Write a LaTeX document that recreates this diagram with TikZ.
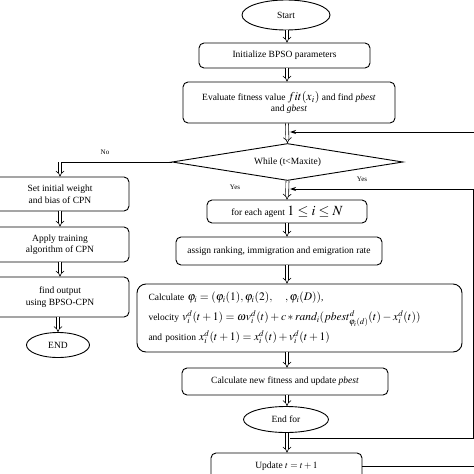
\documentclass[tikz,border=0pt]{standalone}
\usepackage{mathptmx}
\usepackage{fontspec}
\setmainfont{Liberation Serif}
\usetikzlibrary{positioning, shapes.geometric, arrows.meta}
\tikzstyle{normalBox} = [shape=rectangle, draw=black, text=black, line width=0.9pt,
	rounded corners=5pt, align=center, fill=white, font=\fontsize{9.5}{11.5}\selectfont]
\tikzstyle{endBox} = [shape=ellipse, draw=black, text=black, line width=0.9pt,
	fill=white, inner sep=0pt, font=\fontsize{9.5}{11.5}\selectfont]
\tikzstyle{doubleArrow} = [double, double distance=2.4pt, line width=0.6pt, -{Implies}, draw=black]
\tikzstyle{loopArrow} = [line width=0.9pt, -{Stealth[length=6pt,width=4pt]}, draw=black]
\tikzstyle{plainLine} = [line width=0.9pt, draw=black]
\tikzstyle{smallLabel} = [font=\fontsize{7}{8}\selectfont, text=black]
\newcommand{\bigMath}[1]{{\fontsize{11.5}{13}\selectfont$#1$}}

\begin{document}
\begin{tikzpicture}[x=1pt, y=-1pt]
  \useasboundingbox (0,0) rectangle (474,474);
  \coordinate (axis) at (287,0);

  % main column
  \node (start) at (286,15) [endBox, minimum width=88pt, minimum height=30pt] {Start};
  \node (init) at (284.5,55.5) [normalBox, minimum width=171pt, minimum height=25pt] {Initialize BPSO parameters};
  \node (eval) at (289,102.5) [normalBox, minimum width=212pt, minimum height=41pt]
    {Evaluate fitness value {\fontsize{12}{14}\selectfont$fit(x_i)$} and find \textit{pbest}\\ and \textit{gbest}};
  \node (while) at (287.5,162) [shape=diamond, draw=black, line width=0.9pt, aspect=6.2, inner sep=0pt,
    minimum width=231pt, minimum height=37pt, font=\fontsize{9.5}{11.5}\selectfont] {While (t<Maxite)};
  \node (foreach) at (287,211.5) [normalBox, minimum width=160pt, minimum height=23pt]
    {for each agent {\fontsize{14}{16}\selectfont$1\le i\le N$}};
  \node (assign) at (279,251) [normalBox, minimum width=206pt, minimum height=28pt]
    {assign ranking, immigration and emigration rate};
  \node (calc) at (299.5,318) [normalBox, rounded corners=9pt, minimum width=325pt, minimum height=68pt,
    align=left, text width=302pt, font=\fontsize{9.5}{20}\selectfont]
    {Calculate \bigMath{\varphi_i=(\varphi_i(1),\varphi_i(2),\quad,\varphi_i(D))},\\
     velocity \bigMath{v_i^d(t+1)=\omega v_i^d(t)+c*rand_i(pbest^d_{\varphi_i(d)}(t)-x_i^d(t))}\\
     and position \bigMath{x_i^d(t+1)=x_i^d(t)+v_i^d(t+1)}};
  \node (newfit) at (285,381.5) [normalBox, minimum width=206pt, minimum height=27pt]
    {Calculate new fitness and update \textit{pbest}};
  \node (endfor) at (286,419.5) [endBox, minimum width=85pt, minimum height=26pt] {End for};
  \node (update) at (286.5,466) [normalBox, minimum width=151pt, minimum height=26pt]
    {Update $t=t+1$};

  % left column
  \node (set) at (60,194) [normalBox, minimum width=138pt, minimum height=34pt] {Set initial weight\\ and bias of CPN};
  \node (apply) at (60,244.5) [normalBox, minimum width=138pt, minimum height=35pt] {Apply training\\ algorithm of CPN};
  \node (findout) at (60,297) [normalBox, minimum width=138pt, minimum height=40pt] {find output\\ using BPSO-CPN};
  \node (end) at (58,345) [endBox, minimum width=63pt, minimum height=25pt] {END};

  \node (no) at (105,152) [smallLabel] {No};
  \node (yes1) at (235,187) [smallLabel] {Yes};
  \node (yes2) at (362,179) [smallLabel] {Yes};

  \draw [doubleArrow] (start.south -| axis) -- (init.north -| axis);
  \draw [doubleArrow] (init.south -| axis) -- (eval.north -| axis);
  \draw [doubleArrow] (eval.south -| axis) -- (while.north);
  \draw [doubleArrow] (while.south) -- (foreach.north -| axis);
  \draw [doubleArrow] (foreach.south -| axis) -- (assign.north -| axis);
  \draw [doubleArrow] (assign.south -| axis) -- (calc.north -| axis);
  \draw [doubleArrow] (calc.south -| axis) -- (newfit.north -| axis);
  \draw [doubleArrow] (newfit.south -| axis) -- (endfor.north -| axis);
  \draw [doubleArrow] (endfor.south -| axis) -- (update.north -| axis);

  \draw [plainLine] (while.west) -- (while.west -| set);
  \draw [doubleArrow] (while.west -| set) -- (set);
  \draw [doubleArrow] (set) -- (apply);
  \draw [doubleArrow] (apply) -- (findout);
  \draw [doubleArrow] (findout.south -| end) -- (end);

  % loops back
  \coordinate (evalIn) at (290,132);
  \coordinate (forIn) at (290,189);
  \coordinate (forOut) at (290,438);
  \draw [loopArrow] (update.east) -- ++(130,0) |- (evalIn);
  \draw [loopArrow] (forOut) -- (473,438) |- (forIn);
\end{tikzpicture}
\end{document}
